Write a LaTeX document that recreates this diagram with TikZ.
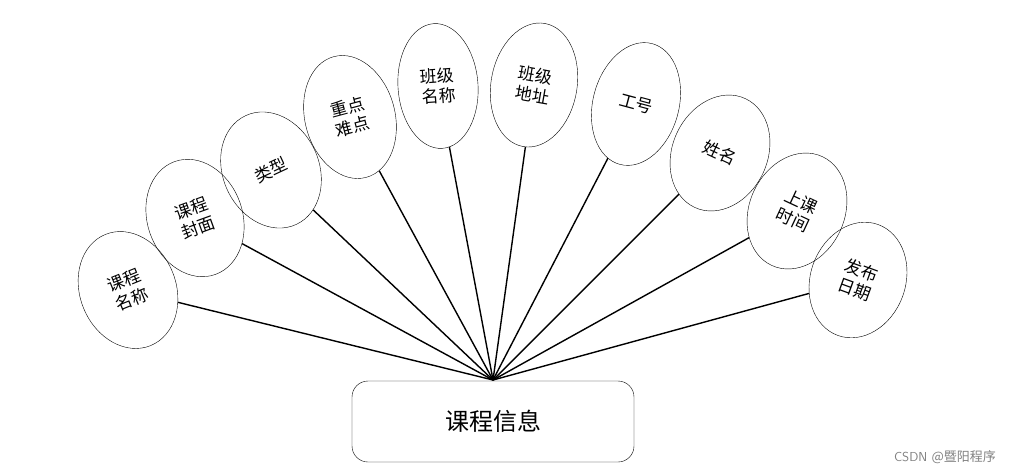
\documentclass[tikz,border=0pt]{standalone}
\usepackage{fontspec}
\newfontfamily\cjk{Noto Sans CJK SC}
\usetikzlibrary{shapes.geometric}
\begin{document}
\begin{tikzpicture}[x=1pt,y=-1pt,
  attr/.style={ellipse,draw,thin,inner sep=0pt,align=center,font=\cjk\fontsize{17}{20}\selectfont},
  conn/.style={line width=1.4pt}]
\useasboundingbox (0,0) rectangle (1025,475);
\node[draw,rounded corners=16pt,minimum width=282pt,minimum height=81pt,font=\cjk\fontsize{24}{28}\selectfont] (root) at (493,421.5) {课程信息};
\coordinate (hub) at (493,380);
\node[attr,minimum width=96pt,minimum height=120pt,rotate=22] (e1) at (128,290) {课程\\名称};
\node[attr,minimum width=95pt,minimum height=120pt,rotate=20] (e2) at (195,218) {课程\\封面};
\node[attr,minimum width=96pt,minimum height=120pt,rotate=25] (e3) at (271,170) {类型};
\node[attr,minimum width=90pt,minimum height=125pt,rotate=15] (e4) at (350,117) {重点\\难点};
\node[attr,minimum width=80pt,minimum height=125pt,rotate=4] (e5) at (438,86) {班级\\名称};
\node[attr,minimum width=86pt,minimum height=125pt,rotate=-10] (e6) at (534,85) {班级\\地址};
\node[attr,minimum width=86pt,minimum height=125pt,rotate=-15] (e7) at (636,104) {工号};
\node[attr,minimum width=95pt,minimum height=120pt,rotate=-25] (e8) at (720,153) {姓名};
\node[attr,minimum width=95pt,minimum height=120pt,rotate=-25] (e9) at (797,211) {上课\\时间};
\node[attr,minimum width=95pt,minimum height=118pt,rotate=-20] (e10) at (858,280) {发布\\日期};
\foreach \i in {1,...,10} \draw[conn] (hub) -- (e\i);
\node[font=\fontsize{13}{15}\selectfont\sffamily,text=gray] (wm) at (945,457) {CSDN \cjk @暨阳程序};
\end{tikzpicture}
\end{document}
